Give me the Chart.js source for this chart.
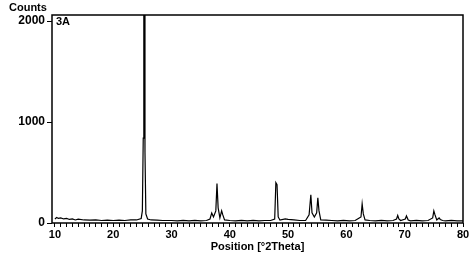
<!DOCTYPE html>
<html>
<head>
<meta charset="utf-8">
<script src="https://cdn.jsdelivr.net/npm/chart.js@4/dist/chart.umd.min.js"></script>
<style>
  html, body { margin: 0; padding: 0; background: #fff; }
  #wrap { width: 474px; height: 258px; }
</style>
</head>
<body>
<div id="wrap"><canvas id="xrdChart"></canvas></div>
<script>
// XRD pattern, sample 3A
const positions = [
    10, 10.3, 10.6, 11, 11.5, 12, 12.5, 13, 13.5, 14, 15, 16, 17, 18, 19, 20, 21, 22, 23, 24,
    24.8, 25.0, 25.15, 25.25, 25.35, 25.45, 25.6, 25.9, 26.5, 27.5, 28.5, 30, 31, 32, 33, 34, 35, 36,
    36.6, 36.9, 37.2, 37.6, 37.8, 38.0, 38.3, 38.6, 38.8, 39.1, 40, 41, 42, 43, 44, 45, 46, 47,
    47.7, 47.9, 48.1, 48.3, 48.6, 49.5, 50, 51, 52, 53,
    53.6, 53.9, 54.1, 54.5, 54.9, 55.1, 55.3, 55.6, 56.5, 57.5, 58.5, 59.5, 60.5, 61.5,
    62.2, 62.5, 62.7, 62.9, 63.2, 64, 65, 66, 67, 68,
    68.6, 68.8, 69.0, 69.3, 70.1, 70.3, 70.6, 71, 72, 73, 74,
    74.8, 75.0, 75.2, 75.5, 75.9, 76.1, 76.5, 77, 78, 79, 80
];
const counts = [
    40, 55, 45, 50, 40, 45, 35, 40, 30, 38, 30, 28, 30, 25, 28, 25, 28, 25, 30, 30,
    45, 120, 840, 2100, 2100, 700, 90, 40, 30, 28, 25, 25, 22, 25, 22, 25, 22, 25,
    40, 100, 60, 120, 390, 150, 50, 120, 80, 30, 25, 22, 25, 22, 25, 22, 25, 25,
    40, 400, 380, 60, 30, 40, 35, 30, 25, 25,
    80, 280, 100, 60, 100, 250, 120, 30, 28, 25, 22, 25, 22, 25,
    50, 60, 190, 90, 30, 25, 22, 25, 22, 25,
    40, 75, 40, 25, 40, 70, 30, 22, 25, 22, 25,
    50, 120, 80, 30, 50, 35, 25, 22, 25, 22, 22
];
const yTicks = [0, 1000, 2000];
const sampleName = '3A';
const yTitle = 'Counts';
const xTitle = 'Position [°2Theta]';

const points = positions.map((p, i) => ({ x: p, y: counts[i] }));
const FONT = "'Liberation Sans', Arial, sans-serif";

// frame + labels
const decor = {
    id: 'decor',
    afterDraw(chart) {
        const { ctx, chartArea: a } = chart;
        ctx.save();
        ctx.strokeStyle = '#000';
        ctx.lineWidth = 1.5;
        ctx.strokeRect(a.left, a.top, a.right - a.left, a.bottom - a.top);
        ctx.fillStyle = '#000';
        ctx.font = 'bold 11px ' + FONT;
        ctx.textBaseline = 'middle';
        ctx.textAlign = 'left';
        ctx.fillText(sampleName, a.left + 4, a.top + 7);
        ctx.fillText(yTitle, 9, 8);
        ctx.restore();
    }
};

new Chart(document.getElementById('xrdChart'), {
    type: 'line',
    data: {
        datasets: [{
            data: points,
            borderColor: '#000',
            borderWidth: 1.2,
            pointRadius: 0,
            tension: 0,
            fill: false
        }]
    },
    options: {
        responsive: true,
        maintainAspectRatio: false,
        animation: false,
        layout: { padding: { top: 15, right: 11, left: 0, bottom: 4 } },
        plugins: {
            legend: { display: false },
            tooltip: { enabled: false }
        },
        scales: {
            x: {
                type: 'linear',
                min: 9.5,
                max: 80,
                afterBuildTicks: (scale) => {
                    const t = [];
                    for (let v = 10; v <= 80; v++) t.push({ value: v });
                    scale.ticks = t;
                },
                afterFit: (scale) => { scale.height = 31; },
                border: { display: false },
                grid: { drawOnChartArea: false, color: '#000', tickLength: 4, tickColor: '#000' },
                ticks: {
                    color: '#000',
                    autoSkip: false,
                    maxRotation: 0,
                    padding: 1,
                    font: { family: FONT, size: 11, weight: 'bold' },
                    callback: (v) => (v % 10 === 0 ? String(v) : '')
                },
                title: {
                    display: true,
                    text: xTitle,
                    color: '#000',
                    padding: { top: 0, bottom: 0 },
                    font: { family: FONT, size: 11, weight: 'bold' }
                }
            },
            y: {
                min: 0,
                max: 2060,
                afterBuildTicks: (scale) => {
                    scale.ticks = yTicks.map(v => ({ value: v }));
                },
                afterFit: (scale) => { scale.width = 52; },
                border: { display: false },
                grid: { drawOnChartArea: false, tickLength: 5, tickColor: '#000' },
                ticks: {
                    color: '#000',
                    padding: 2,
                    font: { family: FONT, size: 12, weight: 'bold' },
                    callback: (v) => String(v)
                }
            }
        }
    },
    plugins: [decor]
});
</script>
</body>
</html>
